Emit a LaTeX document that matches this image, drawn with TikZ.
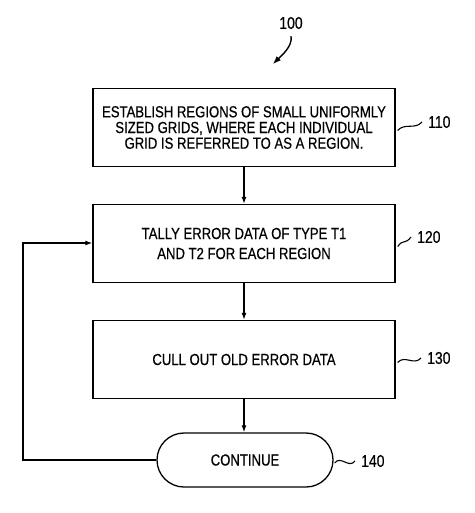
\documentclass[tikz,border=0pt]{standalone}
\usepackage{fontspec}
\setmainfont{Liberation Sans}[FakeStretch=0.82,FakeBold=0.5]
\usetikzlibrary{arrows.meta,shapes.misc}

\begin{document}
\begin{tikzpicture}[x=1pt,y=1pt,yscale=-1,xscale=1,
  stepbox/.style={draw,line width=1.3pt,minimum width=302pt,minimum height=78pt,
    align=center,inner sep=0pt,font=\fontsize{16}{15.7}\selectfont},
  termbox/.style={draw,rounded rectangle,line width=1.3pt,minimum width=176pt,
    minimum height=54pt,inner sep=0pt,font=\fontsize{16}{16}\selectfont},
  reflabel/.style={anchor=west,inner xsep=6pt,inner ysep=0pt,font=\fontsize{17}{17}\selectfont},
  flow/.style={line width=1.3pt,-{Latex[length=7pt,width=5pt]}},
  lead/.style={line width=1.1pt},
]
  \useasboundingbox (0,0) rectangle (474,513);

  % steps
  \node [stepbox] (b110) at (244,127.5) {ESTABLISH REGIONS OF SMALL UNIFORMLY\\SIZED GRIDS, WHERE EACH INDIVIDUAL\\GRID IS REFERRED TO AS A REGION.};
  \node [stepbox] (b120) at (244,243.5) {TALLY ERROR DATA OF TYPE T1\\[4.3pt]AND T2 FOR EACH REGION};
  \node [stepbox] (b130) at (244,359.5) {CULL OUT OLD ERROR DATA};
  \node [termbox] (c140) at (245,460) {CONTINUE};

  % reference numerals
  \node [font=\fontsize{17}{17}\selectfont,inner sep=0pt] (l100) at (291,23) {100};
  \coordinate (a100) at (273,64);
  \node [reflabel] (l110) at (422,122) {110};
  \node [reflabel] (l120) at (411,237) {120};
  \node [reflabel] (l130) at (421,358) {130};
  \node [reflabel] (l140) at (355,461) {140};

  \draw [lead,line width=1.4pt,-{Latex[length=8pt,width=6pt]}] ([yshift=7pt]l100.south) .. controls +(2,10) and +(8,-8) .. (a100);
  \draw [lead] ([xshift=2pt,yshift=3pt]b110.east) .. controls +(7,-8) and +(-7,8) .. (l110.west);
  \draw [lead] ([xshift=2pt,yshift=3pt]b120.east) .. controls +(6,-8) and +(-6,8) .. (l120.west);
  \draw [lead] ([xshift=2pt,yshift=3pt]b130.east) .. controls +(7,-8) and +(-7,8) .. (l130.west);
  \draw [lead] ([xshift=1pt,yshift=3pt]c140.east) .. controls +(6,-8) and +(-6,8) .. (l140.west);

  % flow
  \draw [flow] (b110) -- (b120);
  \draw [flow] (b120) -- (b130);
  \draw [flow] (b130.south) -- (b130.south |- c140.north);
  \coordinate (fb) at (23,243);
  \draw [flow] (c140.west) -| (fb) -- (b120.west |- fb);
\end{tikzpicture}
\end{document}
